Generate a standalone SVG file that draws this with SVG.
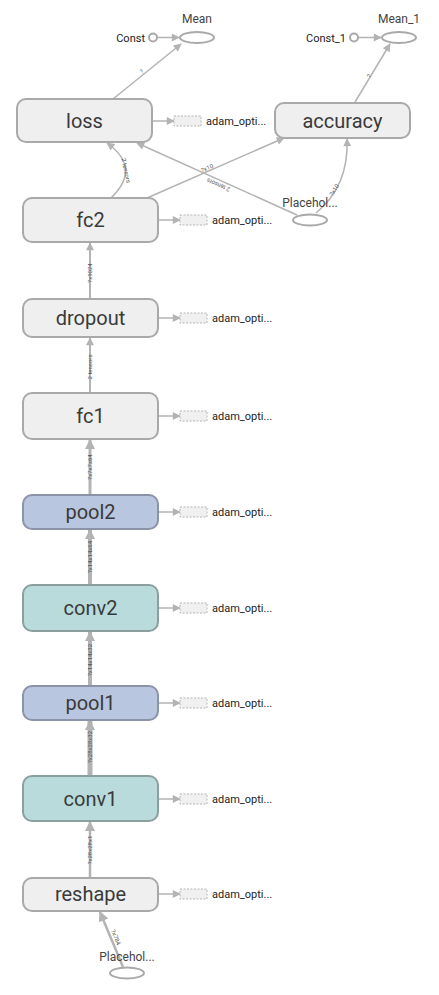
<svg xmlns="http://www.w3.org/2000/svg" width="439" height="995" viewBox="0 0 439 995">
<defs>
<style>
.bg{fill:#ffffff}
.node rect{stroke-width:2}
.gray rect{fill:#efefef;stroke:#a9a9a9}
.conv rect{fill:#b9dbdb;stroke:#8b9f9f}
.pool rect{fill:#b9c6df;stroke:#8b93a8}
.lbl{font-family:Roboto,"Liberation Sans",sans-serif;font-size:20px;fill:#3a3a3a;text-anchor:middle}
.small{font-family:Roboto,"Liberation Sans",sans-serif;font-size:11px;fill:#222}
.mid{font-family:Roboto,"Liberation Sans",sans-serif;font-size:12px;fill:#444;text-anchor:middle}
.stub{fill:#f0f0f0;stroke:#b5b5b5;stroke-width:1;stroke-dasharray:2,1.5}
.ell{fill:#ffffff;stroke:#a9a9a9;stroke-width:2}
.edge{fill:none;stroke:#b3b3b3}
.elbl{font-family:Roboto,"Liberation Sans",sans-serif;font-size:6px;fill:#555;text-anchor:middle}
</style>
<marker id="ah" viewBox="0 0 10 10" refX="9" refY="5" markerWidth="9" markerHeight="8" markerUnits="userSpaceOnUse" orient="auto">
<path d="M0,0 L10,5 L0,10 z" fill="#b3b3b3"/>
</marker>
<marker id="ahb" viewBox="0 0 10 10" refX="9" refY="5" markerWidth="11" markerHeight="10" markerUnits="userSpaceOnUse" orient="auto">
<path d="M0,0 L10,5 L0,10 z" fill="#b3b3b3"/>
</marker>
</defs>
<rect class="bg" x="0" y="0" width="439" height="995"/>

<g id="connectors">
<line class="edge" stroke-width="1.5" x1="157" y1="37.5" x2="179" y2="37.5" marker-end="url(#ah)"/>
<line class="edge" stroke-width="1.5" x1="358" y1="37.5" x2="381" y2="37.5" marker-end="url(#ah)"/>
<line class="edge" stroke-width="1.5" x1="113" y1="99" x2="181" y2="44" marker-end="url(#ah)"/>
<text class="elbl" transform="translate(143,73) rotate(-39)">?</text>
<line class="edge" stroke-width="1.5" x1="355" y1="102" x2="390" y2="44" marker-end="url(#ah)"/>
<text class="elbl" transform="translate(371,77) rotate(-59)">?</text>
<path class="edge" stroke-width="1.5" d="M111,198 Q142,168 107,143" marker-end="url(#ah)"/>
<text class="elbl" transform="translate(124,171) rotate(78)">2 tensors</text>
<line class="edge" stroke-width="1.5" x1="147" y1="198" x2="284" y2="138" marker-end="url(#ah)"/>
<text class="elbl" transform="translate(208,170) rotate(-24)">?x10</text>
<line class="edge" stroke-width="1.5" x1="297" y1="215" x2="137" y2="143" marker-end="url(#ah)"/>
<text class="elbl" transform="translate(219,183) rotate(204)">2 tensors</text>
<path class="edge" stroke-width="1.5" d="M316,213 Q349,186 347,139" marker-end="url(#ah)"/>
<text class="elbl" transform="translate(336,191) rotate(-58)">?x10</text>
<line class="edge" stroke-width="2" x1="90" y1="299" x2="90" y2="243" marker-end="url(#ah)"/>
<text class="elbl" transform="translate(92,273) rotate(-90)">?x1024</text>
<line class="edge" stroke-width="2" x1="90" y1="393" x2="90" y2="338" marker-end="url(#ah)"/>
<text class="elbl" transform="translate(92,367) rotate(-90)">2 tensors</text>
<line class="edge" stroke-width="3" x1="90" y1="495" x2="90" y2="440" marker-end="url(#ahb)"/>
<text class="elbl" transform="translate(92,467) rotate(-90)">?x7x7x64</text>
<line class="edge" stroke-width="4" x1="90" y1="585" x2="90" y2="530" marker-end="url(#ahb)"/>
<text class="elbl" transform="translate(92,557) rotate(-90)">?x14x14x64</text>
<line class="edge" stroke-width="4" x1="90" y1="686" x2="90" y2="632" marker-end="url(#ahb)"/>
<text class="elbl" transform="translate(92,660) rotate(-90)">?x14x14x32</text>
<line class="edge" stroke-width="5" x1="90" y1="776" x2="90" y2="721" marker-end="url(#ahb)"/>
<text class="elbl" transform="translate(92,747) rotate(-90)">?x28x28x32</text>
<line class="edge" stroke-width="2.5" x1="90" y1="878" x2="90" y2="822" marker-end="url(#ahb)"/>
<text class="elbl" transform="translate(92,850) rotate(-90)">?x28x28x1</text>
<line class="edge" stroke-width="2.5" x1="123" y1="967" x2="100" y2="912" marker-end="url(#ahb)"/>
<text class="elbl" transform="translate(114,938) rotate(68)">?x784</text>
<line class="edge" stroke-width="1.5" x1="152" y1="121" x2="174" y2="121" marker-end="url(#ah)"/>
<line class="edge" stroke-width="1.5" x1="158" y1="220" x2="180" y2="220" marker-end="url(#ah)"/>
<line class="edge" stroke-width="1.5" x1="158" y1="318" x2="180" y2="318" marker-end="url(#ah)"/>
<line class="edge" stroke-width="1.5" x1="158" y1="416" x2="180" y2="416" marker-end="url(#ah)"/>
<line class="edge" stroke-width="1.5" x1="158" y1="512" x2="180" y2="512" marker-end="url(#ah)"/>
<line class="edge" stroke-width="1.5" x1="158" y1="608" x2="180" y2="608" marker-end="url(#ah)"/>
<line class="edge" stroke-width="1.5" x1="158" y1="703" x2="180" y2="703" marker-end="url(#ah)"/>
<line class="edge" stroke-width="1.5" x1="158" y1="799" x2="180" y2="799" marker-end="url(#ah)"/>
<line class="edge" stroke-width="1.5" x1="158" y1="894" x2="180" y2="894" marker-end="url(#ah)"/>
</g>

<g id="Mean"><ellipse class="ell" cx="197" cy="37.5" rx="17" ry="5.5"/><text class="mid" x="197" y="23">Mean</text></g>
<g id="Const"><circle class="ell" cx="153" cy="37.5" r="4"/><text class="small" x="145" y="41.5" text-anchor="end">Const</text></g>
<g id="Mean_1"><ellipse class="ell" cx="399" cy="37.5" rx="17" ry="5.5"/><text class="mid" x="399" y="23">Mean_1</text></g>
<g id="Const_1"><circle class="ell" cx="354" cy="37.5" r="4"/><text class="small" x="346" y="41.5" text-anchor="end">Const_1</text></g>
<g id="Placeholder_1"><ellipse class="ell" cx="310" cy="220" rx="17" ry="5.5"/><text class="mid" x="310" y="207">Placehol...</text></g>
<g id="Placeholder"><ellipse class="ell" cx="127" cy="973" rx="17" ry="5.5"/><text class="mid" x="127" y="961">Placehol...</text></g>

<g id="loss" class="node gray"><rect x="17" y="99" width="135" height="43" rx="9"/><text class="lbl" x="84.5" y="127.5">loss</text></g>
<g id="accuracy" class="node gray"><rect x="275" y="103" width="135" height="35" rx="9"/><text class="lbl" x="342.5" y="127.5">accuracy</text></g>
<g id="fc2" class="node gray"><rect x="23" y="198" width="135" height="44" rx="9"/><text class="lbl" x="90.5" y="227">fc2</text></g>
<g id="dropout" class="node gray"><rect x="23" y="299" width="135" height="38" rx="9"/><text class="lbl" x="90.5" y="325">dropout</text></g>
<g id="fc1" class="node gray"><rect x="23" y="393" width="135" height="46" rx="9"/><text class="lbl" x="90.5" y="423">fc1</text></g>
<g id="pool2" class="node pool"><rect x="23" y="495" width="135" height="34" rx="9"/><text class="lbl" x="90.5" y="519">pool2</text></g>
<g id="conv2" class="node conv"><rect x="23" y="585" width="135" height="46" rx="9"/><text class="lbl" x="90.5" y="615">conv2</text></g>
<g id="pool1" class="node pool"><rect x="23" y="686" width="135" height="34" rx="9"/><text class="lbl" x="90.5" y="710">pool1</text></g>
<g id="conv1" class="node conv"><rect x="23" y="776" width="135" height="45" rx="9"/><text class="lbl" x="90.5" y="805.5">conv1</text></g>
<g id="reshape" class="node gray"><rect x="23" y="878" width="135" height="33" rx="9"/><text class="lbl" x="90.5" y="901">reshape</text></g>

<g id="adam_stubs">
<rect class="stub" x="174" y="116" width="27" height="10"/><text class="small" x="206" y="125">adam_opti...</text>
<rect class="stub" x="180" y="215" width="27" height="10"/><text class="small" x="212" y="224">adam_opti...</text>
<rect class="stub" x="180" y="313" width="27" height="10"/><text class="small" x="212" y="322">adam_opti...</text>
<rect class="stub" x="180" y="411" width="27" height="10"/><text class="small" x="212" y="420">adam_opti...</text>
<rect class="stub" x="180" y="507" width="27" height="10"/><text class="small" x="212" y="516">adam_opti...</text>
<rect class="stub" x="180" y="603" width="27" height="10"/><text class="small" x="212" y="612">adam_opti...</text>
<rect class="stub" x="180" y="698" width="27" height="10"/><text class="small" x="212" y="707">adam_opti...</text>
<rect class="stub" x="180" y="794" width="27" height="10"/><text class="small" x="212" y="803">adam_opti...</text>
<rect class="stub" x="180" y="889" width="27" height="10"/><text class="small" x="212" y="898">adam_opti...</text>
</g>
</svg>
